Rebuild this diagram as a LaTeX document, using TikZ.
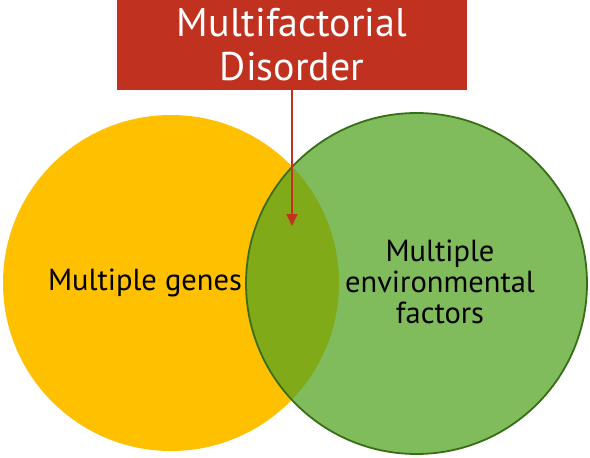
\documentclass[tikz,border=0pt]{standalone}
\usepackage{fontspec}
\setmainfont{PT Sans}
\usetikzlibrary{arrows.meta}
\definecolor{genesfill}{RGB}{255,192,0}
\definecolor{envfill}{RGB}{81,162,32}
\definecolor{envline}{RGB}{56,110,22}
\definecolor{boxred}{RGB}{192,49,31}
\tikzset{
  venn/.style={circle, inner sep=0pt},
  titlebox/.style={fill=boxred, inner sep=0pt, minimum width=350pt, minimum height=90pt,
    text=white, align=center, font=\fontsize{40}{44}\selectfont},
  lbl/.style={text=black, align=center, font=\fontsize{30.5}{31}\selectfont},
  pointer/.style={draw=boxred, line width=1.6pt, -{Triangle[length=12pt,width=11pt]}}
}
\begin{document}
\begin{tikzpicture}[x=1pt,y=-1pt]
\useasboundingbox (0,0) rectangle (590,458);
\node[venn, fill=genesfill, minimum size=336pt] (genes) at (171,283) {};
\node[venn, fill=envfill, fill opacity=0.73, draw=envline, line width=1.8pt, minimum size=341pt] (env) at (416.5,283.5) {};
\node[titlebox] (title) at (292,45) {Multifactorial\\Disorder};
\coordinate (tip) at (292,226);
\draw[pointer] (title.south) -- (tip);
\node[lbl] (gtext) at (145,283) {Multiple genes};
\node[lbl] (etext) at (440,282) {Multiple\\environmental\\factors};
\end{tikzpicture}
\end{document}
